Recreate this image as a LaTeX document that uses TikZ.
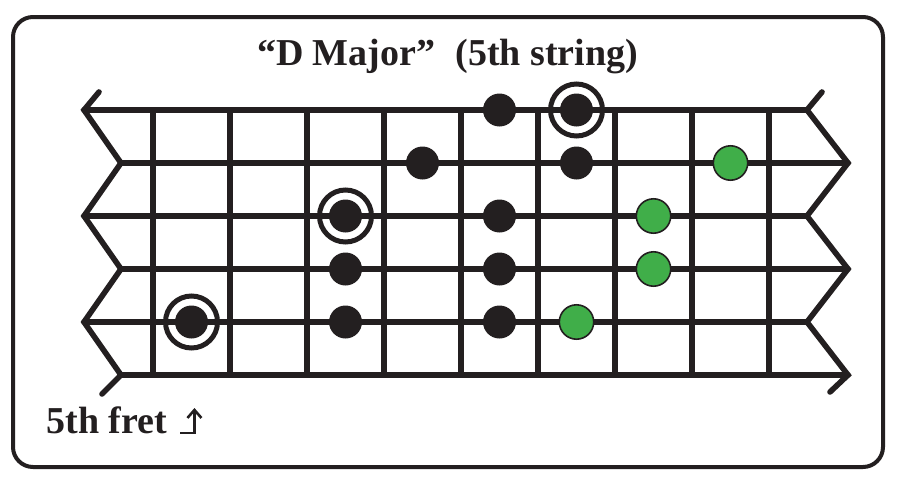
\documentclass[tikz,border=0pt]{standalone}
\usepackage{fontspec}
\setmainfont{Liberation Serif}
\usetikzlibrary{arrows.meta}
\definecolor{ink}{HTML}{231F20}
\definecolor{notegreen}{HTML}{40AE49}

\tikzset{
  wire/.style={draw=ink, line width=2.8pt, line cap=round, line join=miter},
  dot/.style={circle, fill=ink, inner sep=0pt, minimum size=16.5pt},
  greendot/.style={circle, fill=notegreen, draw=ink, line width=0.8pt, inner sep=0pt, minimum size=17.2pt},
  ring/.style={draw=ink, line width=2.5pt},
}

\begin{document}
\begin{tikzpicture}[x=0.5pt, y=-0.5pt, font=\bfseries\fontsize{19}{22}\selectfont]
        \useasboundingbox (0,0) rectangle (900,482);
        % card
        \draw[ink, line width=2pt, rounded corners=10pt] (13,17) rectangle (883,467);
        \node[anchor=base, inner sep=0pt, text=ink] (title) at (447.5,65) {“D Major”\hspace{10pt}(5th string)};
        % frets
        \foreach \i in {0,...,8}
            \draw[wire, line cap=butt] (153+77*\i,110) -- (153+77*\i,375);
        % strings
        \foreach \j/\l/\r in {0/84/807, 1/121/848, 2/84/807, 3/121/848, 4/84/807, 5/121/848}
            \draw[wire] (\l,110+53*\j) -- (\r,110+53*\j);
        \draw[wire] (99,92) -- (84,110) -- (121,163) -- (84,216) -- (121,269) -- (84,322) -- (121,375) -- (102,394);
        \draw[wire] (822,92) -- (807,110) -- (848,163) -- (807,216) -- (848,269) -- (807,322) -- (848,375) -- (830,392);
        % scale notes
        \foreach \n/\k/\s in {n1/5/0, n2/4/1, n3/6/1, n4/5/2, n5/3/3, n6/5/3, n7/3/4, n8/5/4}
            \node[dot] (\n) at (114.5+77*\k,110+53*\s) {};
        \foreach \n/\k/\s in {root1/6/0, root2/3/2, root3/1/4} {
            \node[dot] (\n) at (114.5+77*\k,110+53*\s) {};
            \draw[ring] (\n) circle (13pt);
        }
        \foreach \n/\k/\s in {g1/8/1, g2/7/2, g3/7/3, g4/6/4}
            \node[greendot] (\n) at (114.5+77*\k,110+53*\s) {};
        % position marker
        \node[anchor=base west, inner sep=0pt, text=ink] (fretlabel) at (46,433) {5th fret};
        \draw[ink, line width=1.3pt, -{Straight Barb[length=4pt,width=7pt]}]
            ([xshift=6.5pt]fretlabel.base east) -- ++(14,0) -- ++(0,-25);
\end{tikzpicture}
\end{document}
